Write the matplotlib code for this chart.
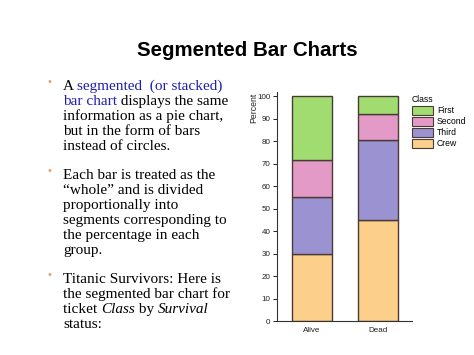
import matplotlib
matplotlib.use("Agg")
import matplotlib.pyplot as plt
from matplotlib.patches import Patch

# data
groups = ["Alive", "Dead"]
classes = ["Crew", "Third", "Second", "First"]
crew = [30.0, 45.0]
third = [25.0, 35.3]
second = [16.5, 11.7]
first = [28.5, 8.0]
yticks = [0, 10, 20, 30, 40, 50, 60, 70, 80, 90, 100]

colors = {"First": "#a0dc70", "Second": "#e49ac6", "Third": "#9b92d2", "Crew": "#fcd08a"}
edge = "#4a3a36"

W, H = 474, 355
fig = plt.figure(figsize=(W / 100, H / 100), dpi=100)
fig.patch.set_facecolor("white")

# slide title
fig.text(247 / W, 1 - 51 / H, "Segmented Bar Charts", ha="center", va="center",
         fontsize=14.8, fontweight="bold", family="Liberation Sans")

# bullet text, each line as runs of (text, color, style)
blue = "#1f1fb4"
black = "black"
lines = [
    (True, [("A ", black, "normal"), ("segmented  (or stacked)", blue, "normal")]),
    (False, [("bar chart", blue, "normal"), (" displays the same", black, "normal")]),
    (False, [("information as a pie chart,", black, "normal")]),
    (False, [("but in the form of bars", black, "normal")]),
    (False, [("instead of circles.", black, "normal")]),
    (True, [("Each bar is treated as the", black, "normal")]),
    (False, [("\u201cwhole\u201d and is divided", black, "normal")]),
    (False, [("proportionally into", black, "normal")]),
    (False, [("segments corresponding to", black, "normal")]),
    (False, [("the percentage in each", black, "normal")]),
    (False, [("group.", black, "normal")]),
    (True, [("Titanic Survivors: Here is", black, "normal")]),
    (False, [("the segmented bar chart for", black, "normal")]),
    (False, [("ticket ", black, "normal"), ("Class", black, "italic"), (" by ", black, "normal"),
             ("Survival", black, "italic")]),
    (False, [("status:", black, "normal")]),
]

renderer = fig.canvas.get_renderer()
y = 90.0
x0 = 63.0
for i, (bullet, runs) in enumerate(lines):
    if bullet and i > 0:
        y += 14.0
    if bullet:
        fig.text(46 / W, 1 - (y - 5) / H, "\u2022", color="#e0a070", fontsize=7,
                 ha="left", va="baseline", family="DejaVu Sans")
    x = x0
    for txt, col, style in runs:
        t = fig.text(x / W, 1 - y / H, txt, color=col, fontsize=11, style=style,
                     family="Liberation Serif", ha="left", va="baseline")
        bb = t.get_window_extent(renderer)
        x += bb.width
    y += 15.0

# stacked bar chart
ax = fig.add_axes([276.7 / W, 34 / H, 135 / W, 229.3 / H])
xpos = [0, 1]
bottom = [0.0, 0.0]
for name, vals in [("Crew", crew), ("Third", third), ("Second", second), ("First", first)]:
    ax.bar(xpos, vals, width=0.6, bottom=bottom, color=colors[name], edgecolor=edge,
           linewidth=1.0, label=name)
    bottom = [b + v for b, v in zip(bottom, vals)]

ax.set_xlim(-0.525, 1.5)
ax.set_ylim(0, 102)
ax.set_yticks(yticks)
ax.set_xticks(xpos)
ax.set_xticklabels(groups)
for s in ["top", "right"]:
    ax.spines[s].set_visible(False)
for s in ["left", "bottom"]:
    ax.spines[s].set_color("#333333")
    ax.spines[s].set_linewidth(0.8)
ax.tick_params(axis="y", length=3, width=0.7, labelsize=5.8, pad=1.5, colors="#222222")
ax.tick_params(axis="x", length=0, labelsize=5.8, pad=4, colors="#222222")
for lab in ax.get_xticklabels() + ax.get_yticklabels():
    lab.set_family("Liberation Sans")

fig.text(254 / W, 1 - 108 / H, "Percent", rotation=90, ha="center", va="center",
         fontsize=6.2, family="Liberation Sans", color="#222222")

handles = [Patch(facecolor=colors[c], edgecolor=edge, linewidth=0.8) for c in ["First", "Second", "Third", "Crew"]]
leg = fig.legend(handles, ["First", "Second", "Third", "Crew"], title="Class",
                 loc="upper left", bbox_to_anchor=(406 / W, 1 - 89 / H), frameon=False,
                 fontsize=6.2, title_fontsize=6.2, handlelength=2.4, handleheight=1.2,
                 handletextpad=0.5, labelspacing=0.2, borderpad=0.2, alignment="left")
for t in leg.get_texts() + [leg.get_title()]:
    t.set_family("Liberation Sans")

fig.savefig("out.png", dpi=100)
